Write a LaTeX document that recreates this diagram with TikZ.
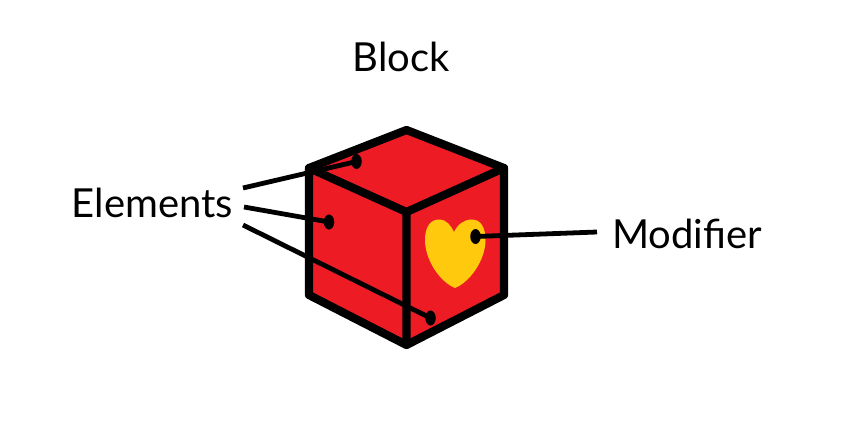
\documentclass[tikz,border=0pt]{standalone}
\usepackage{fontspec}
\setmainfont{Lato}
\usetikzlibrary{shapes.geometric}
\definecolor{cubered}{RGB}{237,28,36}
\definecolor{heartyellow}{RGB}{255,201,14}
\tikzset{
 edgeline/.style={line width=8.2pt,line join=round,line cap=round,black},
 leader/.style={line width=4.8pt,black},
 dotnode/.style={ellipse,fill=black,inner sep=0pt,minimum width=10.5pt,minimum height=15pt},
 lab/.style={font=\fontsize{40}{44}\selectfont,inner sep=0pt,text=black}
}
\begin{document}
\begin{tikzpicture}[x=1pt,y=-1pt]
\useasboundingbox (0,0) rectangle (849,434);
\fill[white] (0,0) rectangle (849,434);
\coordinate (T) at (406.5,130);
\coordinate (L) at (309,168);
\coordinate (R) at (504,168);
\coordinate (C) at (406.5,212);
\coordinate (BL) at (309,295);
\coordinate (BR) at (504,295);
\coordinate (B) at (406.5,345);
\fill[cubered] (T)--(R)--(BR)--(B)--(BL)--(L)--cycle;
\fill[heartyellow] (455,288) .. controls (440,282) and (425,260) .. (425,240) .. controls (425,226) and (431,219.5) .. (439,219.5) .. controls (447,219.5) and (451,226) .. (454,232) .. controls (458,224) and (464,219.5) .. (472,219.5) .. controls (481,219.5) and (485.5,228) .. (485.5,240) .. controls (485.5,260) and (470,282) .. (455,288) -- cycle;
\draw[edgeline] (T)--(R)--(BR)--(B)--(BL)--(L)--cycle;
\draw[edgeline] (L)--(C)--(R) (C)--(B);
\node[lab] (block) at (401,57) {Block};
\node[lab,anchor=east] (elements) at (233,203) {Elements};
\node[lab,anchor=west] (modifier) at (612,234) {Modifier};
\node[dotnode] (d1) at (356.5,161.5) {};
\node[dotnode] (d2) at (329,222) {};
\node[dotnode] (d3) at (430.5,318) {};
\node[dotnode] (d4) at (475.5,236.5) {};
\coordinate (e1) at (243,188);
\coordinate (e2) at (244,207);
\coordinate (e3) at (243,225);
\coordinate (m) at (597,232);
\draw[leader] (e1)--(d1.center);
\draw[leader] (e2)--(d2.center);
\draw[leader] (e3)--(d3.center);
\draw[leader] (m)--(d4.center);
\end{tikzpicture}
\end{document}
